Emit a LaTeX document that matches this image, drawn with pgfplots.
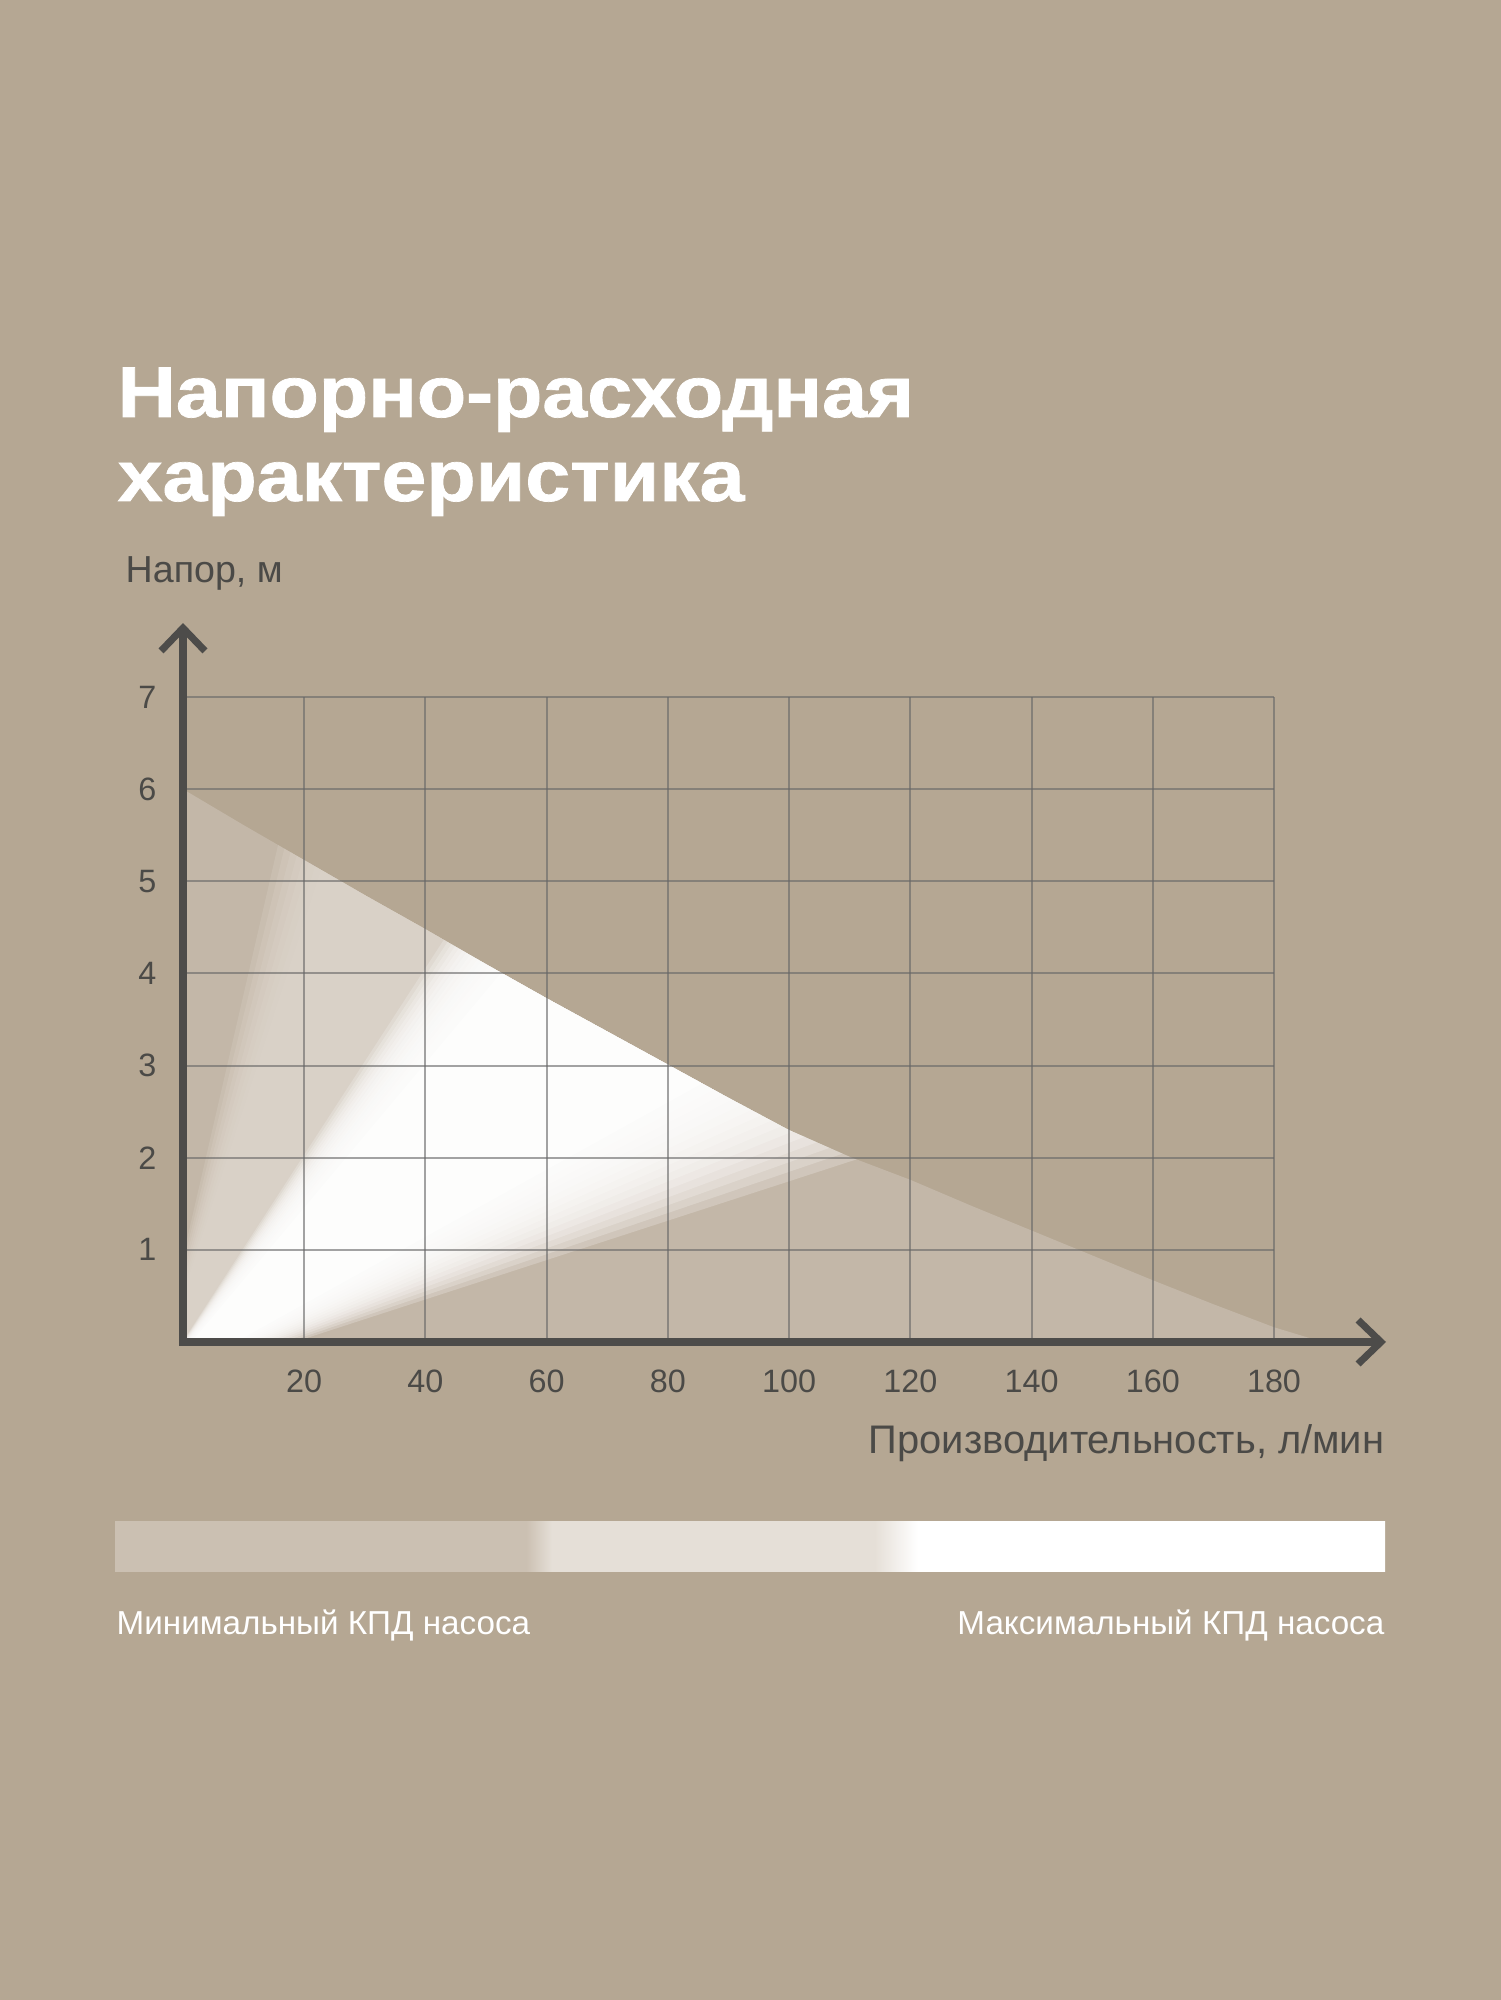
\documentclass[border=0pt]{standalone}
\usepackage{fontspec}
\setmainfont{Liberation Sans}
\newfontfamily\titlefont{Liberation Sans Bold}[FakeBold=1]
\usepackage{graphicx}
\usepackage{pgfplots}
\pgfplotsset{compat=1.18}
\usetikzlibrary{arrows.meta}

\definecolor{bg}{HTML}{B5A793}
\definecolor{under}{HTML}{C3B7A8}
\definecolor{plateau}{HTML}{DED7CD}
\definecolor{textgray}{HTML}{4B4A47}
\definecolor{axisgray}{HTML}{4D4C4A}
\definecolor{barA}{HTML}{CBC0B2}
\definecolor{barB}{HTML}{E5DFD7}

% efficiency scale: the middle 50bp of the shading spans the bar
\pgfdeclarehorizontalshading{effbar}{100bp}{color(0bp)=(barA); color(25bp)=(barA);
  color(41.2bp)=(barA); color(42.2bp)=(barB); color(54.9bp)=(barB);
  color(56.6bp)=(white); color(75bp)=(white); color(100bp)=(white)}

% wedge of light from a point just off the origin
\newcommand\beamwedge[3]{\fill[path picture={}, #3] (axis cs:-5,-0.5) -- +(#1:25cm) -- +(#2:25cm) -- cycle;}

\begin{document}
\begin{tikzpicture}
\useasboundingbox (0,0) rectangle (15.01,20);
\fill[bg] (0,0) rectangle (15.01,20);

% title
\node[anchor=base west, inner sep=0pt, text=white, font=\fontsize{20.5}{24}\selectfont\titlefont]
  at (1.17,15.83) {\scalebox{1.12}[1]{Напорно-расходная}};
\node[anchor=base west, inner sep=0pt, text=white, font=\fontsize{20.5}{24}\selectfont\titlefont]
  at (1.17,14.99) {\scalebox{1.12}[1]{характеристика}};

% axis titles
\node[anchor=base west, inner sep=0pt, text=textgray, font=\fontsize{10.7}{12}\selectfont]
  at (1.25,14.17) {Напор, м};
\node[anchor=base east, inner sep=0pt, text=textgray, font=\fontsize{11.35}{13}\selectfont]
  at (13.85,5.46) {Производительность, л/мин};

\begin{axis}[
  at={(1.83cm,6.58cm)}, anchor=south west,
  scale only axis, width=10.91cm, height=6.45cm,
  xmin=0, xmax=180, ymin=0, ymax=7,
  clip=false,
  axis on top,
  axis lines=left,
  axis line style={draw=axisgray, line width=2pt},
  x axis line style={-{Straight Barb[length=6.5pt,width=12.5pt]}, shorten >=-1.12cm, shorten <=-1pt},
  y axis line style={-{Straight Barb[length=6.5pt,width=12.5pt]}, shorten >=-0.74cm, shorten <=-1pt},
  xtick={20,40,...,180},
  ytick={1,...,7},
  major tick length=0pt,
  grid=major,
  grid style={draw=black!60, opacity=0.6, line width=0.55pt},
  /pgf/number format/assume math mode=true,
  tick label style={font=\fontsize{9.2}{10}\selectfont, text=textgray, inner sep=0pt},
  xticklabel style={anchor=base, yshift=-0.51cm},
  yticklabel style={anchor=east, xshift=-0.26cm},
]
\addplot[draw=none, fill=under, path picture={
  \foreach \k in {0,...,7}{%
    \pgfmathsetmacro\aa{51+6*\k/7}\pgfmathsetmacro\bb{77-5*\k/7}%
    \beamwedge{\aa}{\bb}{plateau, opacity=0.24}}
  \foreach \k in {0,...,13}{%
    \pgfmathsetmacro\aa{18+10*\k/13}\pgfmathsetmacro\bb{57-6*\k/13}%
    \beamwedge{\aa}{\bb}{white, opacity=0.22}}
  \beamwedge{29}{50}{white, opacity=0.5}
}] coordinates {
  (0,6) (10,5.61) (20,5.23) (30,4.85) (40,4.48) (50,4.1) (60,3.73)
  (70,3.37) (80,3.01) (90,2.65) (100,2.3) (110,2.01) (120,1.76)
  (130,1.48) (140,1.21) (150,0.94) (160,0.67) (170,0.41) (180,0.16) (188,0)
} \closedcycle;
\end{axis}

% efficiency scale
\shade[shading=effbar] (1.15,4.28) rectangle (13.85,4.78);

\node[anchor=base west, inner sep=0pt, text=white, font=\fontsize{9.45}{11}\selectfont]
  at (1.16,3.65) {Минимальный КПД насоса};
\node[anchor=base east, inner sep=0pt, text=white, font=\fontsize{9.45}{11}\selectfont]
  at (13.85,3.65) {Максимальный КПД насоса};
\end{tikzpicture}
\end{document}
